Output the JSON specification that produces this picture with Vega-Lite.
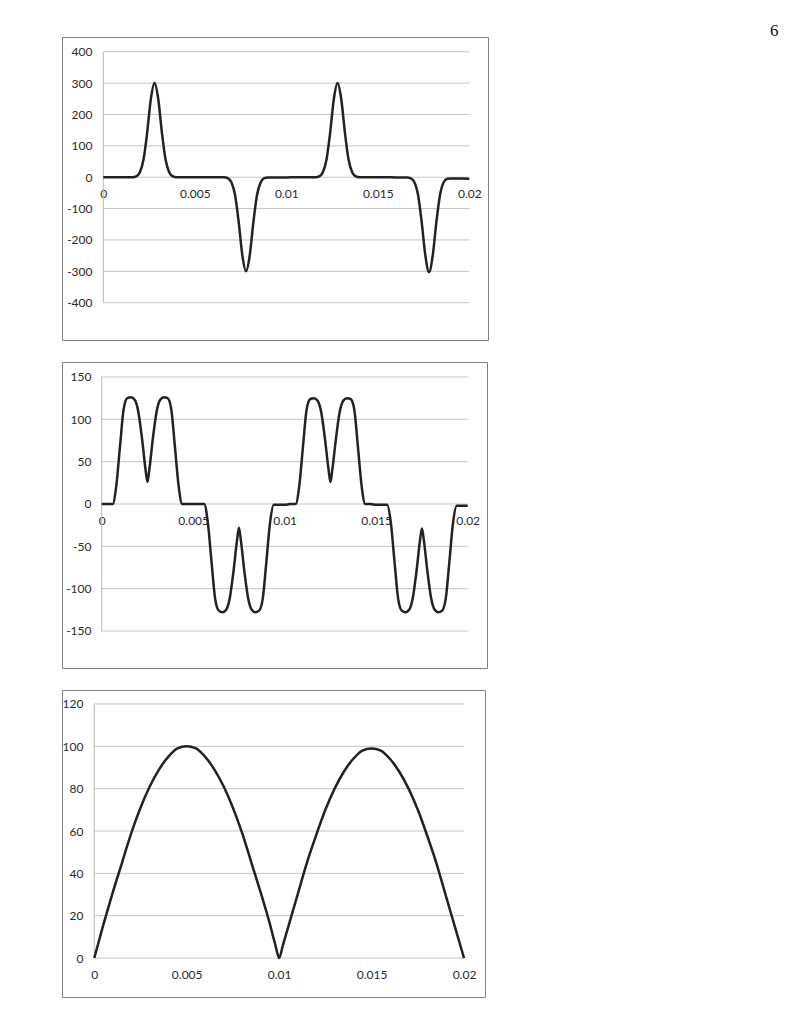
{
  "$schema": "https://vega.github.io/schema/vega-lite/v6.json",
  "background": "white",
  "padding": {"left": 61, "top": 21, "right": 0, "bottom": 0},
  "title": {"text": "6", "anchor": "end", "font": "Liberation Serif", "fontSize": 17, "fontWeight": "normal", "color": "#111111", "dx": 290, "dy": 7, "offset": 4},
  "spacing": 20,
  "config": {
    "view": {"stroke": "#7f7f7f", "strokeWidth": 1},
    "axis": {"title": null, "domain": false, "ticks": false, "tickSize": 0, "grid": false, "labelFont": "Lato", "labelFontSize": 12, "labelColor": "#2a2a2a", "labelPadding": 11, "labelOverlap": false, "labelFlush": false, "labelBound": false, "labelExpr": "'' + datum.value"}
  },
  "vconcat": [
    {
      "width": 426, "height": 303,
      "layer": [
        {
          "data": {"values": [{"g": -400}, {"g": -300}, {"g": -200}, {"g": -100}, {"g": 0}, {"g": 100}, {"g": 200}, {"g": 300}, {"g": 400}]},
          "mark": {"type": "rule", "color": "#c4c4c4", "strokeWidth": 1},
          "encoding": {
            "y": {"field": "g", "type": "quantitative", "scale": {"domain": [-518.9, 446.9], "nice": false, "zero": false}, "axis": {"title": null, "values": [-400, -300, -200, -100, 0, 100, 200, 300, 400], "labelOverlap": false, "offset": -41}},
            "x": {"datum": 0, "type": "quantitative", "scale": {"domain": [-0.002257, 0.021022], "nice": false, "zero": false}, "axis": {"title": null, "values": [0, 0.005, 0.01, 0.015, 0.02], "labelOverlap": false, "offset": -163}},
            "x2": {"datum": 0.02}
          }
        },
        {
          "data": {"values": [{}]},
          "mark": {"type": "rule", "color": "#b8b8b8", "strokeWidth": 1},
          "encoding": {
            "x": {"datum": 0, "type": "quantitative", "axis": {"title": null, "values": [0, 0.005, 0.01, 0.015, 0.02], "labelOverlap": false, "offset": -163}},
            "y": {"datum": -400, "type": "quantitative", "axis": {"title": null, "values": [-400, -300, -200, -100, 0, 100, 200, 300, 400], "labelOverlap": false, "offset": -41}},
            "y2": {"datum": 400}
          }
        },
        {
          "data": {"values": [
            {"t": 0, "v": 0}, {"t": 0.0005, "v": 0}, {"t": 0.001, "v": 0}, {"t": 0.0015, "v": 0}, {"t": 0.0016, "v": 0},
            {"t": 0.0018, "v": 3}, {"t": 0.002, "v": 16}, {"t": 0.0022, "v": 57}, {"t": 0.0024, "v": 144}, {"t": 0.0026, "v": 250},
            {"t": 0.0028, "v": 300}, {"t": 0.003, "v": 250}, {"t": 0.0032, "v": 144}, {"t": 0.0034, "v": 57}, {"t": 0.0036, "v": 16},
            {"t": 0.0038, "v": 3}, {"t": 0.004, "v": 0}, {"t": 0.0045, "v": 0}, {"t": 0.005, "v": 0}, {"t": 0.0055, "v": 0},
            {"t": 0.006, "v": 0}, {"t": 0.0066, "v": 0}, {"t": 0.0068, "v": -3}, {"t": 0.007, "v": -16}, {"t": 0.0072, "v": -57},
            {"t": 0.0074, "v": -144}, {"t": 0.0076, "v": -250}, {"t": 0.0078, "v": -300}, {"t": 0.008, "v": -250}, {"t": 0.0082, "v": -144},
            {"t": 0.0084, "v": -57}, {"t": 0.0086, "v": -16}, {"t": 0.0088, "v": -3}, {"t": 0.009, "v": -1}, {"t": 0.0095, "v": -1},
            {"t": 0.01, "v": -1}, {"t": 0.0105, "v": 0}, {"t": 0.011, "v": 0}, {"t": 0.0116, "v": 0}, {"t": 0.0118, "v": 3},
            {"t": 0.012, "v": 16}, {"t": 0.0122, "v": 57}, {"t": 0.0124, "v": 144}, {"t": 0.0126, "v": 250}, {"t": 0.0128, "v": 300},
            {"t": 0.013, "v": 250}, {"t": 0.0132, "v": 144}, {"t": 0.0134, "v": 57}, {"t": 0.0136, "v": 16}, {"t": 0.0138, "v": 3},
            {"t": 0.014, "v": 0}, {"t": 0.0145, "v": 0}, {"t": 0.015, "v": 0}, {"t": 0.0155, "v": 0}, {"t": 0.016, "v": -1},
            {"t": 0.0166, "v": -1}, {"t": 0.0168, "v": -4}, {"t": 0.017, "v": -16}, {"t": 0.0172, "v": -57}, {"t": 0.0174, "v": -144},
            {"t": 0.0176, "v": -250}, {"t": 0.0178, "v": -303}, {"t": 0.018, "v": -250}, {"t": 0.0182, "v": -144}, {"t": 0.0184, "v": -57},
            {"t": 0.0186, "v": -16}, {"t": 0.0188, "v": -5}, {"t": 0.019, "v": -4}, {"t": 0.0195, "v": -4}, {"t": 0.02, "v": -5}
          ]},
          "mark": {"type": "line", "interpolate": "monotone", "color": "#222222", "strokeWidth": 2.5},
          "encoding": {
            "x": {"field": "t", "type": "quantitative", "axis": {"title": null, "values": [0, 0.005, 0.01, 0.015, 0.02], "labelOverlap": false, "offset": -163}},
            "y": {"field": "v", "type": "quantitative", "axis": {"title": null, "values": [-400, -300, -200, -100, 0, 100, 200, 300, 400], "labelOverlap": false, "offset": -41}}
          }
        }
      ]
    },
    {
      "width": 425, "height": 306,
      "layer": [
        {
          "data": {"values": [{"g": -150}, {"g": -100}, {"g": -50}, {"g": 0}, {"g": 50}, {"g": 100}, {"g": 150}]},
          "mark": {"type": "rule", "color": "#c4c4c4", "strokeWidth": 1},
          "encoding": {
            "y": {"field": "g", "type": "quantitative", "scale": {"domain": [-193.7, 167.7], "nice": false, "zero": false}, "axis": {"title": null, "values": [-150, -100, -50, 0, 50, 100, 150], "offset": -40}},
            "x": {"datum": 0, "type": "quantitative", "scale": {"domain": [-0.002169, 0.021055], "nice": false, "zero": false}, "axis": {"title": null, "values": [0, 0.005, 0.01, 0.015, 0.02], "offset": -164}},
            "x2": {"datum": 0.02}
          }
        },
        {
          "data": {"values": [{}]},
          "mark": {"type": "rule", "color": "#b8b8b8", "strokeWidth": 1},
          "encoding": {
            "x": {"datum": 0, "type": "quantitative", "axis": {"title": null, "values": [0, 0.005, 0.01, 0.015, 0.02], "offset": -164}},
            "y": {"datum": -150, "type": "quantitative", "axis": {"title": null, "values": [-150, -100, -50, 0, 50, 100, 150], "offset": -40}},
            "y2": {"datum": 150}
          }
        },
        {
          "data": {"values": [
            {"t": 0, "v": 0}, {"t": 0.0003, "v": 0}, {"t": 0.0006, "v": 0}, {"t": 0.0008, "v": 22}, {"t": 0.001, "v": 68},
            {"t": 0.0012, "v": 112}, {"t": 0.0014, "v": 125}, {"t": 0.0016, "v": 126}, {"t": 0.0018, "v": 123}, {"t": 0.002, "v": 109},
            {"t": 0.0022, "v": 78}, {"t": 0.0024, "v": 40}, {"t": 0.0025, "v": 26}, {"t": 0.0026, "v": 40}, {"t": 0.0028, "v": 78},
            {"t": 0.003, "v": 109}, {"t": 0.0032, "v": 123}, {"t": 0.0034, "v": 126}, {"t": 0.0036, "v": 125}, {"t": 0.0038, "v": 112},
            {"t": 0.004, "v": 68}, {"t": 0.0042, "v": 22}, {"t": 0.0044, "v": 0}, {"t": 0.0047, "v": 0}, {"t": 0.005, "v": 0},
            {"t": 0.0053, "v": 0}, {"t": 0.0056, "v": 0}, {"t": 0.0058, "v": -22}, {"t": 0.006, "v": -68}, {"t": 0.0062, "v": -112},
            {"t": 0.0064, "v": -126}, {"t": 0.0066, "v": -128}, {"t": 0.0068, "v": -125}, {"t": 0.007, "v": -111}, {"t": 0.0072, "v": -80},
            {"t": 0.0074, "v": -42}, {"t": 0.0075, "v": -28}, {"t": 0.0076, "v": -42}, {"t": 0.0078, "v": -80}, {"t": 0.008, "v": -111},
            {"t": 0.0082, "v": -125}, {"t": 0.0084, "v": -128}, {"t": 0.0086, "v": -126}, {"t": 0.0088, "v": -112}, {"t": 0.009, "v": -68},
            {"t": 0.0092, "v": -22}, {"t": 0.0094, "v": -1}, {"t": 0.0097, "v": -1}, {"t": 0.01, "v": -1}, {"t": 0.0103, "v": 0},
            {"t": 0.0106, "v": 0}, {"t": 0.0108, "v": 22}, {"t": 0.011, "v": 68}, {"t": 0.0112, "v": 112}, {"t": 0.0114, "v": 124},
            {"t": 0.0116, "v": 125}, {"t": 0.0118, "v": 122}, {"t": 0.012, "v": 108}, {"t": 0.0122, "v": 77}, {"t": 0.0124, "v": 40},
            {"t": 0.0125, "v": 26}, {"t": 0.0126, "v": 40}, {"t": 0.0128, "v": 77}, {"t": 0.013, "v": 108}, {"t": 0.0132, "v": 122},
            {"t": 0.0134, "v": 125}, {"t": 0.0136, "v": 124}, {"t": 0.0138, "v": 112}, {"t": 0.014, "v": 68}, {"t": 0.0142, "v": 22},
            {"t": 0.0144, "v": 0}, {"t": 0.0147, "v": 0}, {"t": 0.015, "v": -1}, {"t": 0.0153, "v": -1}, {"t": 0.0156, "v": -1},
            {"t": 0.0158, "v": -22}, {"t": 0.016, "v": -68}, {"t": 0.0162, "v": -112}, {"t": 0.0164, "v": -126}, {"t": 0.0166, "v": -128},
            {"t": 0.0168, "v": -125}, {"t": 0.017, "v": -111}, {"t": 0.0172, "v": -80}, {"t": 0.0174, "v": -42}, {"t": 0.0175, "v": -29},
            {"t": 0.0176, "v": -42}, {"t": 0.0178, "v": -80}, {"t": 0.018, "v": -111}, {"t": 0.0182, "v": -125}, {"t": 0.0184, "v": -128},
            {"t": 0.0186, "v": -126}, {"t": 0.0188, "v": -112}, {"t": 0.019, "v": -68}, {"t": 0.0192, "v": -22}, {"t": 0.0194, "v": -2},
            {"t": 0.0197, "v": -2}, {"t": 0.02, "v": -2}
          ]},
          "mark": {"type": "line", "interpolate": "monotone", "color": "#222222", "strokeWidth": 2.5},
          "encoding": {
            "x": {"field": "t", "type": "quantitative", "axis": {"title": null, "values": [0, 0.005, 0.01, 0.015, 0.02], "offset": -164}},
            "y": {"field": "v", "type": "quantitative", "axis": {"title": null, "values": [-150, -100, -50, 0, 50, 100, 150], "offset": -40}}
          }
        }
      ]
    },
    {
      "width": 423, "height": 307,
      "layer": [
        {
          "data": {"values": [{"g": 0}, {"g": 20}, {"g": 40}, {"g": 60}, {"g": 80}, {"g": 100}, {"g": 120}]},
          "mark": {"type": "rule", "color": "#c4c4c4", "strokeWidth": 1},
          "encoding": {
            "y": {"field": "g", "type": "quantitative", "scale": {"domain": [-18.4, 126.6], "nice": false, "zero": false}, "axis": {"title": null, "values": [0, 20, 40, 60, 80, 100, 120], "offset": -32}},
            "x": {"datum": 0, "type": "quantitative", "scale": {"domain": [-0.001746, 0.021135], "nice": false, "zero": false}, "axis": {"title": null, "values": [0, 0.005, 0.01, 0.015, 0.02], "offset": -39}},
            "x2": {"datum": 0.02}
          }
        },
        {
          "data": {"values": [{}]},
          "mark": {"type": "rule", "color": "#b8b8b8", "strokeWidth": 1},
          "encoding": {
            "x": {"datum": 0, "type": "quantitative", "axis": {"title": null, "values": [0, 0.005, 0.01, 0.015, 0.02], "offset": -39}},
            "y": {"datum": 0, "type": "quantitative", "axis": {"title": null, "values": [0, 20, 40, 60, 80, 100, 120], "offset": -32}},
            "y2": {"datum": 120}
          }
        },
        {
          "data": {"values": [
            {"t": 0, "v": 0}, {"t": 0.0005, "v": 16}, {"t": 0.001, "v": 31}, {"t": 0.0015, "v": 45}, {"t": 0.002, "v": 59},
            {"t": 0.0025, "v": 71}, {"t": 0.003, "v": 81}, {"t": 0.0035, "v": 89}, {"t": 0.004, "v": 95}, {"t": 0.0045, "v": 99},
            {"t": 0.005, "v": 100}, {"t": 0.0055, "v": 99}, {"t": 0.006, "v": 95}, {"t": 0.0065, "v": 89}, {"t": 0.007, "v": 81},
            {"t": 0.0075, "v": 71}, {"t": 0.008, "v": 59}, {"t": 0.0085, "v": 45}, {"t": 0.009, "v": 31}, {"t": 0.0095, "v": 16},
            {"t": 0.0098, "v": 6}, {"t": 0.01, "v": 0}, {"t": 0.0102, "v": 6},
            {"t": 0.0105, "v": 15}, {"t": 0.011, "v": 30}, {"t": 0.0115, "v": 45}, {"t": 0.012, "v": 58},
            {"t": 0.0125, "v": 70}, {"t": 0.013, "v": 80}, {"t": 0.0135, "v": 88}, {"t": 0.014, "v": 94}, {"t": 0.0145, "v": 98},
            {"t": 0.015, "v": 99}, {"t": 0.0155, "v": 98}, {"t": 0.016, "v": 94}, {"t": 0.0165, "v": 88}, {"t": 0.017, "v": 80},
            {"t": 0.0175, "v": 70}, {"t": 0.018, "v": 58}, {"t": 0.0185, "v": 45}, {"t": 0.019, "v": 30}, {"t": 0.0195, "v": 15},
            {"t": 0.0198, "v": 6}, {"t": 0.02, "v": 0}
          ]},
          "mark": {"type": "line", "interpolate": "monotone", "color": "#222222", "strokeWidth": 2.5},
          "encoding": {
            "x": {"field": "t", "type": "quantitative", "axis": {"title": null, "values": [0, 0.005, 0.01, 0.015, 0.02], "offset": -39}},
            "y": {"field": "v", "type": "quantitative", "axis": {"title": null, "values": [0, 20, 40, 60, 80, 100, 120], "offset": -32}}
          }
        }
      ]
    }
  ]
}
